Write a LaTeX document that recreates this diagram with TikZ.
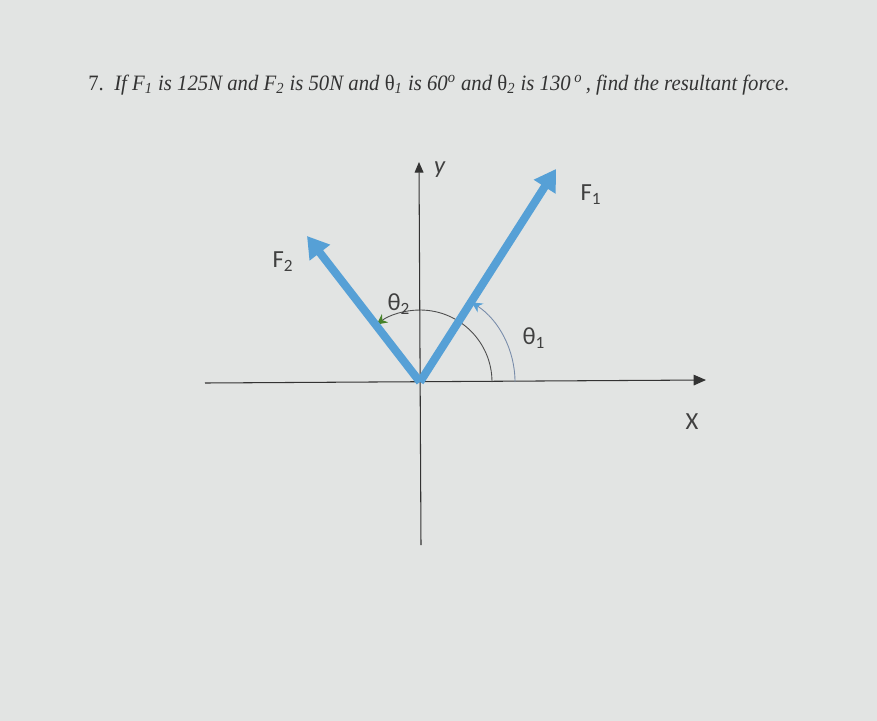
\documentclass[tikz,border=0pt]{standalone}
\usepackage{fontspec}
\setmainfont{Liberation Serif}
\newfontfamily\labelfont{Carlito}
\usetikzlibrary{calc, positioning, arrows, arrows.meta}
\definecolor{paper}{RGB}{226,228,227}
\definecolor{forceblue}{RGB}{86,160,214}
\definecolor{arcblue}{RGB}{120,140,170}
\definecolor{arcgreen}{RGB}{70,130,40}

\begin{document}
\begin{tikzpicture}[x=0.02cm, y=-0.02cm,
    axis/.style={draw=black!80, line width=0.6pt},
    force/.style={draw=forceblue, line width=4.6pt, -{Triangle[length=12pt, width=14pt]}},
    lbl/.style={font=\labelfont\fontsize{14}{14}\selectfont, text=black!75}
]
    % background
    \fill[paper] (0,0) rectangle (877,721);
    \useasboundingbox (0,0) rectangle (877,721);

    % question
    \node[anchor=base west, inner sep=0pt, font=\fontsize{12.5}{14}\selectfont, text=black!80] (question) at (88,90)
        {\scalebox{0.945}[1]{7.\ \ \textit{If F\textsubscript{1} is 125N and F\textsubscript{2} is 50N and \textup{θ}\textsubscript{1} is 60\textsuperscript{o} and \textup{θ}\textsubscript{2} is 130\,\textsuperscript{o}\,, find the resultant force.}}};

    % axes
    \coordinate (O) at (420,382);
    \coordinate (xleft) at (205,383);
    \coordinate (xright) at (706,380);
    \coordinate (ybot) at (421,545);
    \coordinate (ytop) at (419,162);
    \draw[axis, -{Triangle[length=7pt, width=6pt]}] (xleft) -- (xright);
    \draw[axis, -{Triangle[length=6pt, width=5pt]}] (ybot) -- (ytop);

    % angle arcs
    \draw[arcblue, line width=0.5pt, -{Stealth[length=6pt, width=6pt, color=forceblue]}]
        ($(O)+(95,0)$) arc[start angle=0, end angle=-57, radius=95];
    \draw[black!70, line width=0.5pt, -{Stealth[length=6pt, width=6pt, color=arcgreen]}]
        ($(O)+(72,0)$) arc[start angle=0, end angle=-127, radius=72];

    % forces
    \coordinate (F1tip) at (556,169);
    \coordinate (F2tip) at (307,236);
    \draw[force] (O) -- (F1tip);
    \draw[force] (O) -- (F2tip);

    % labels
    \node[lbl] (yl) at (440,170) {\textit{y}};
    \node[lbl] (xl) at (692,422) {X};
    \node[lbl] (F1l) at (591,195) {F\textsubscript{1}};
    \node[lbl] (F2l) at (283,262) {F\textsubscript{2}};
    \node[lbl] (t2l) at (399,304) {θ\textsubscript{2}};
    \node[lbl] (t1l) at (534,338) {θ\textsubscript{1}};
\end{tikzpicture}
\end{document}
